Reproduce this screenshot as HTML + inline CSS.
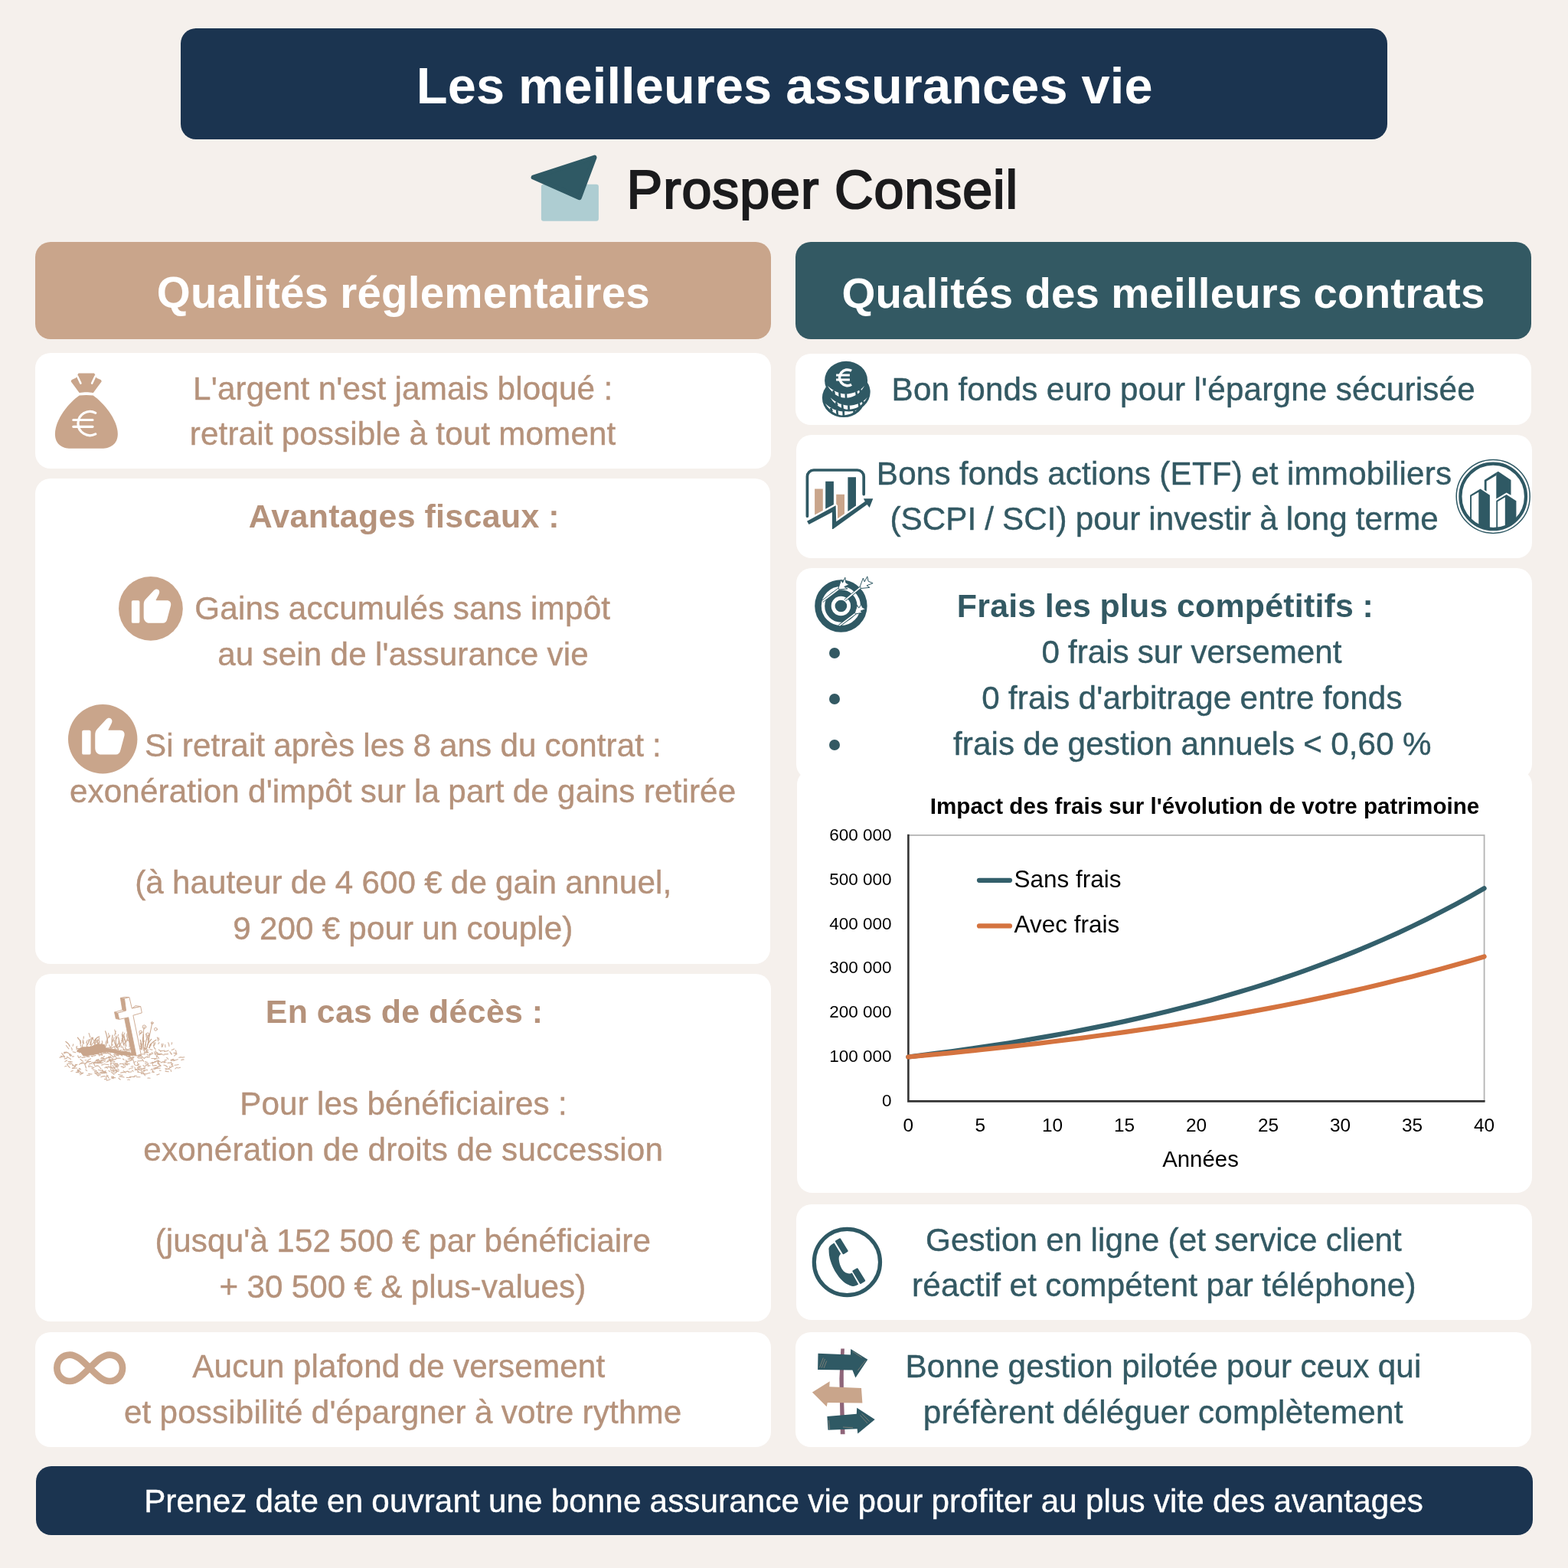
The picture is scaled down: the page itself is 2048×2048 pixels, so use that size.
<!DOCTYPE html>
<html lang="fr">
<head>
<meta charset="utf-8">
<title>Les meilleures assurances vie</title>
<style>
*{box-sizing:border-box;margin:0;padding:0}
html,body{width:2048px;height:2048px;overflow:hidden}
body{background:#f5f0ec;font-family:"Liberation Sans",Arial,Helvetica,sans-serif;position:relative}
.box{position:absolute;border-radius:20px}
.navy{background:#1b3450}
.tan{background:#c9a58b}
.teal{background:#335963}
.card{background:#fff;border-radius:20px}
.t{position:absolute;white-space:nowrap;text-align:center;line-height:59.68px;font-size:42.2px;word-spacing:-.7px}
.tt{color:#b5927b;-webkit-text-stroke:.4px #b5927b}
.tl{color:#335963;-webkit-text-stroke:.4px #335963}
.b{font-weight:bold;font-size:42.9px;line-height:59.68px}
h1,h2,h3,p,li{font-weight:inherit;font-size:inherit}
h1,h2,h3.b{font-weight:bold}
h3.b{font-size:42.9px;-webkit-text-stroke:0}
footer .t{-webkit-text-stroke:.4px #fff}
.w{color:#fff}
.l{display:block;position:relative}
svg{position:absolute;overflow:visible}
ul{list-style:none}
.dot{position:absolute;width:14px;height:14px;border-radius:50%;background:#335963}
</style>
</head>
<body>
<header>
<div class="box navy" style="left:236.2px;top:36.8px;width:1575.6px;height:145.4px;border-radius:20px"></div>
<div class="t w" style="left:24px;width:2000px;top:72.5px"><h1 style="font-size:66.7px;line-height:76px;font-weight:bold"><span id="t0" class="l" style="left:0.79px;letter-spacing:0.132px;top:1.99px">Les meilleures assurances vie</span></h1></div>
<svg style="left:679.4px;top:189.8px" width="120" height="120" viewBox="0 0 120 120">
<rect x="27.9" y="50.7" width="75" height="48.1" rx="3" fill="#aecdd2"/>
<path d="M17.6,41.6 L97.5,15.6 L77.8,68.2 Z" fill="#2f5964" stroke="#2f5964" stroke-width="6" stroke-linejoin="round"/>
</svg>
<div class="t" style="left:818.5px;top:208px;font-size:70px;line-height:80px;color:#1b1b1d;text-align:left;letter-spacing:.95px;-webkit-text-stroke:2.2px #1b1b1d">Prosper Conseil</div>
</header>
<main>
<section>
<div class="box tan" style="left:45.6px;top:316.2px;width:961.6px;height:126.9px"></div>
<div class="t w" style="left:-473.8px;width:2000px;top:350px"><h2 style="font-size:56.5px;line-height:64px"><span id="h1" class="l" style="left:0.63px;letter-spacing:0.183px;top:0.73px">Qualités réglementaires</span></h2></div>
<div class="box card" style="left:45.6px;top:461.4px;width:961.6px;height:150.8px"></div>
<svg style="left:50px;top:470px" width="140" height="140" viewBox="0 0 140 140">
<polygon points="52.9,18.2 72.7,18.2 73.3,19.7 75.4,24.3 81.3,26.7 81.9,28.1 71.4,42.2 62.7,41.3 54,42.2 43.5,28.1 44.1,26.7 49.6,24.3 52.3,19.7" fill="#c9a58b" stroke="#c9a58b" stroke-width="1.6" stroke-linejoin="round"/>
<path d="M51,21.2 L55.4,30.6 M74.5,21.2 L70.1,30.6" stroke="#fff" stroke-width="2.5" stroke-linecap="round" fill="none"/>
<path d="M53.6,46.6 Q62.7,45.2 71.7,46.6 C85,56 103.8,78 103.8,97 C103.8,110 94,115.8 83,115.8 L42,115.8 C31,115.8 21.9,110 21.9,97 C21.9,78 40,56 53.6,46.6 Z" fill="#c9a58b"/>
<path d="M74.8,69.3 A15.6,15.6 0 1 0 74.8,96.9 M45.8,78.5 H71 M45.8,87.3 H71" stroke="#fff" stroke-width="3.2" stroke-linecap="round" fill="none"/>
</svg>
<div class="t tt" style="left:-473.8px;width:2000px;top:478px"><p><span id="a1" class="l" style="left:-0.04px;letter-spacing:0.163px;top:-0.32px">L'argent n'est jamais bloqué :</span><span id="a2" class="l" style="left:-0.08px;letter-spacing:0.120px;top:-0.21px">retrait possible à tout moment</span></p></div>
<div class="box card" style="left:45.6px;top:625.1px;width:960.1px;height:633.7px"></div>
<svg style="left:154.8px;top:752.8px" width="83.8" height="83.8" viewBox="0 0 100 100">
<circle cx="50" cy="50" r="50" fill="#c9a58b"/>
<rect x="20.1" y="37.3" width="12.6" height="35.3" rx="2.2" fill="#fff"/>
<path d="M39,44 C39,40 40,37.5 42.5,35 L55,21.5 C57.5,19 60.5,19 62.3,21 C64,23 63.8,25.3 62.7,27.5 L58.3,36.2 C57.5,37.2 58.3,37.4 59.4,37.4 L75,37.4 C79.5,37.4 82.2,40.5 81.3,45 L75.6,66.5 C74.5,70.5 72.5,72.6 69,72.6 L48,72.6 C42.5,72.6 39,68.5 39,63 Z" fill="#fff"/>
</svg>
<svg style="left:88.7px;top:919.7px" width="90.4" height="90.4" viewBox="0 0 100 100">
<circle cx="50" cy="50" r="50" fill="#c9a58b"/>
<rect x="20.1" y="37.3" width="12.6" height="35.3" rx="2.2" fill="#fff"/>
<path d="M39,44 C39,40 40,37.5 42.5,35 L55,21.5 C57.5,19 60.5,19 62.3,21 C64,23 63.8,25.3 62.7,27.5 L58.3,36.2 C57.5,37.2 58.3,37.4 59.4,37.4 L75,37.4 C79.5,37.4 82.2,40.5 81.3,45 L75.6,66.5 C74.5,70.5 72.5,72.6 69,72.6 L48,72.6 C42.5,72.6 39,68.5 39,63 Z" fill="#fff"/>
</svg>
<div class="t tt" style="left:-473.8px;width:2000px;top:644.7px"><h3 class="b"><span id="b1" class="l" style="left:1.50px;letter-spacing:0.330px;top:0.77px">Avantages fiscaux :</span></h3><p><span class="l">&nbsp;</span><span id="b2" class="l" style="left:-0.45px;letter-spacing:0.223px;top:1.13px">Gains accumulés sans impôt</span><span id="b3" class="l" style="left:0.39px;letter-spacing:0.132px;top:1.14px">au sein de l'assurance vie</span><span class="l">&nbsp;</span><span id="b4" class="l" style="left:0.29px;letter-spacing:0.071px;top:1.07px">Si retrait après les 8 ans du contrat :</span><span id="b5" class="l" style="left:-0.11px;letter-spacing:0.137px;top:1.08px">exonération d'impôt sur la part de gains retirée</span><span class="l">&nbsp;</span><span id="b6" class="l" style="left:0.47px;letter-spacing:0.080px;top:1.01px">(à hauteur de 4 600 € de gain annuel,</span><span id="b7" class="l" style="left:0.19px;letter-spacing:0.089px;top:0.92px">9 200 € pour un couple)</span></p></div>
<div class="box card" style="left:45.6px;top:1272.2px;width:961.6px;height:453.8px"></div>
<svg style="left:60px;top:1290px" width="200" height="140" viewBox="0 0 200 140">
<g fill="none" stroke="#c9a58b" stroke-linecap="round">
<path d="M69.2,65.9Q69.2,64.1 69.6,63.8M52.5,97.5Q54.2,96.2 56.7,96.2M35,76.3Q35.6,74.8 35.7,73.8M128.2,84.2Q130.8,84 132.5,85.1M170.1,83.8Q170,83 169.3,81.8M111.6,86.1Q114.1,85.4 117.3,84.3M128.4,85.4Q130.6,84.4 134.1,84.8M56.5,81.8Q56.5,80.5 55.4,79.9M84.3,79.7Q86.2,78.8 89.6,76.8M104.1,96.3Q104.5,97.1 106.5,96.6M144.7,113.8Q145.9,114.1 148.1,112.8M32.5,93.5Q29.4,91.4 27.5,90.1M92.7,88Q93.8,87.1 94.9,87.2M122,61.9Q122.9,59.8 124.3,58.5M105.2,89.2Q108,89.6 109.8,89.2M53.1,90.2Q54.2,89.8 55,89.9M72.5,98.5Q73.5,98.4 74.8,97.8M135.1,86.6Q136.8,86.7 137.2,85.9M39.7,110.7Q42.5,110.3 44.2,109.1M50.8,89.1Q52.1,88.5 53.9,88.1M167.5,89.1Q169.7,87.4 171,86.8M95.4,107.3Q94.7,107.2 93.7,106.2M166.7,85.3Q169.2,85.2 170.7,85.1M56.5,90.6Q55.2,87.1 55,84.9M27.6,100.3Q29.8,98.3 32.7,97.5M126.1,70.7Q126.2,67.4 126.6,64.6M91.5,102.5Q94.2,101.1 95.3,101M85.5,116.3Q86.7,116 88.5,116.4M148,68Q146.8,66.2 147,65.2M133,118.1Q135,117.8 136,118.3M106.8,68.5Q106.6,65.5 105.4,62.7M97.5,111.2Q99.9,110.4 101.6,110.8M75.8,77.7Q76,75.7 74.8,74.6M61.7,99.4Q63.5,97.9 66.8,98.1M65.9,71.3Q67.1,69.8 67.7,67.6M119.4,104.5Q121.2,104.4 121.9,104M163.4,101.1Q164.4,100.3 165.8,99.6M91.2,60.5Q90.5,58.2 89.8,55M94,109.5Q92.9,108.4 91.9,107.6M94.9,101.2Q93.2,100.2 91.1,98.7M51.6,88.3Q52.5,89.7 54.5,89.4M91.5,110.2Q92.6,108.8 95.1,108.7M115.5,97.8Q114,96 114.1,95.8M97,85.8Q97.8,85.1 99.3,84.9M168.8,106Q169.7,104.7 171.4,104.3M150,97.7Q152.7,97 155.7,95.9M96,116.3Q98,115.7 98.5,115.9M124.2,75.8Q123.3,73.6 123.6,72.3M55.1,73Q56.2,70.3 57.6,67.8M102.3,80.9Q103.4,81.1 104.4,80.3M164.1,81.4Q165,81.1 167.6,80M163.9,87.3Q164.4,85.9 163.4,85.4M102,101.1Q105,100.2 107,100.9M119.3,90.9Q121.3,89.1 123.8,88.3M65.5,86.4Q67,86.5 70.1,86.8M85.8,80.4Q88.7,80.7 90.7,80.2M99.2,69.5Q99.5,67.6 100.7,66.7M141.5,75.4Q140.7,73.3 140.9,71.5M80.7,70Q79.6,68.6 80,67.6M125.6,81Q124,80.8 122.7,79.3M108.5,106.2Q110.9,105.2 113.5,104.7M83.6,109.7Q82.2,108.4 81.9,108.6M115.8,79.9Q114.3,77.5 113.5,74.4M114.2,109.3Q114,108.5 112.4,108M57.1,84.4Q60.5,85.1 62.9,85.4M69.8,77.1Q68.6,75 68.4,72M98.1,102.9Q99.6,103.6 101,103.3M54.5,74.5Q53.8,72.8 53.8,72M102.7,98.9Q104.9,98.6 105.9,96.8M176.7,94.5Q179.1,93.6 180.1,94M114.3,97Q116.4,97.4 117.7,96.4M77.1,97Q76.8,95.7 75.9,95.4M104,99.2Q105.2,99.5 107,99.7M74.7,83.5Q78.4,82.4 80.6,81.5M149.1,82.2Q152.1,82.8 155,82M33.5,88.4Q30.8,86.8 28.7,84.8M129.5,114.9Q127.6,112 126.8,110.1M56.4,103.9Q55.4,103.1 55.7,102M106.6,97.4Q105.5,95.5 104.3,94.6M92.6,85.5Q94.7,85.5 98,85.8M137,107.4Q137.3,106.5 139.1,107M63.2,109.6Q66,109.6 67.9,110.7M164,74.1Q164.9,72.4 164.5,71.7M59.1,89.4Q59.7,89.5 61,90M146.7,73.4Q148,72.5 147.8,71.6M101.9,101.5Q101.1,100.9 101,98.7M111.2,79.8Q112.5,79.4 114.8,78.6M117.6,84.5Q119.3,83.3 122.6,81.7M163.4,95.3Q164.8,94.9 167.8,94.4M48.6,96.2Q47,95.6 44.9,93.3M135.5,87.6Q137.1,86.6 138.8,86.6M139.7,102Q143,101.5 144.6,101.7M49.1,66.4Q49.4,64.9 49.3,63.8M104.4,87.2Q104.6,86.1 104,85.3M112.5,93.3Q113.7,92.1 114.2,92.3M173.6,91.3Q176,90.6 179.3,91.2M150,97.9Q151.7,97 154.5,96.6M58,74.6Q58.8,72.9 58,71.2M83.9,84.8Q85.7,84.4 87.3,84.6M87.8,90.6Q89.5,90.4 89.7,89.9M41.8,109.9Q42,108.8 41.2,107.1M145.9,97.5Q146.8,96.5 149.3,96.5M91.9,91.1Q90.5,89.8 88.6,87.7M43.6,85Q45.5,83.5 47.4,82.8M140.5,110.7Q139,108.1 138.5,106.1M79.2,121.1Q81.2,121 84,119.7M55.7,112.4Q58.5,113.1 60,112.9M131.5,112.4Q134.4,111.4 136,111.2M81.8,103.1Q84.8,104.5 87.2,104.5M45.8,99.3Q47.1,99.1 49.2,98.1M73.2,112Q72.1,111.2 70.8,110.6M128.9,81.9Q127.9,80.3 127.3,80.1M119.6,100.6Q121.5,101 121.8,99.8M92.1,66.8Q92.1,66.1 93.1,64.9M125.8,110.9Q124.9,109.8 124.5,107.5M59.8,80.8Q58,80.1 56.6,79M109,77.4Q109.2,75.6 109.1,73.2M64.1,96.2Q67.2,95.4 69,93.7M116.3,107.7Q118.6,106.4 121.9,106.5M35.1,83.7Q37,84.2 38.9,84.8M154.8,86.9Q156.5,87 159.5,86.6M116.5,101.1Q117.4,101.7 119.8,101.7M119.1,78.3Q119.4,77.1 119.6,74.9M50.4,84.7Q48.6,84 47.4,81.7M133.7,64.4Q134.2,63.6 135.1,62.6M82.8,93.9Q83.2,93.9 85.1,93.9M105.6,80.8Q108.2,80.6 110.4,80.5M76.6,110.4Q74.3,109 73.6,107.3M102,110.5Q103.6,110.1 105.5,109.4M94.3,83.2Q95.6,82.5 98.5,81.2M93.8,74.1Q95.3,72.2 95.4,70.7M141.3,75.3Q142.6,74.1 142.7,71.5M129.3,96.9Q130.1,97 132.4,97.6M110.8,85Q112.5,85.1 113.2,85.2M144.4,85.9Q147.3,86.7 149.5,86.3M70.5,96Q73,96 75.9,95.3M115.2,115.3Q117.4,115.6 118.3,115.1M147.6,92.2Q146,90.9 145.4,88.8M116,100.8Q115.6,99.6 115,98.2M81.5,90.4Q82.5,90.4 84.7,89.7M75.6,93.3Q74.5,92 72.1,91.1M159.8,93.4Q159.2,92.9 157.7,91.4M24,92.8Q26,93 27.7,91.7M134.9,67.3Q134.1,63.7 133.2,61.6M100.6,104.9Q102.6,103.6 104,102.9M89.6,62.3Q90.4,59.4 91.3,57.1M151.9,87.5Q153.7,87.6 154.3,87.9M91.1,87.9Q93,88.1 95,89.1M135.9,75.3Q136.1,73.9 136.8,73.6M102.7,68.2Q102.5,64.7 102,62.4M45.4,106.9Q44.7,105.6 43.1,105.4M38.2,100.3Q39.4,100.8 40.9,100.6M71.1,111.7Q72.7,111.1 75.1,111.6M101.6,85.4Q101.7,84.9 100.8,83.2M154.2,98.1Q154.9,97.1 157,97.3M82.7,65Q82.3,62.6 81.6,59.5M42.7,110.6Q43,108.2 41.6,107.2M75.7,82.4Q74.9,80.9 73.1,78.2M24.4,90.2Q21.9,87.4 20.7,85.6M69.3,69.2Q69.2,68.6 69.5,66.4M118.4,116.7Q120.7,116.7 123,116.8M60,86.8Q59.1,85.7 58,85.3M90.7,101.9Q89.8,100.6 88.4,99.3M100.4,81.3Q101.1,80.7 102.3,80.9M106.8,96Q109.2,96.4 111.4,95.1M116.7,74.2Q118,74.1 117.9,72.3M60,97.7Q62.6,97.5 64.9,97.4M78.4,85.9Q77,83.1 75.1,82.1M78.6,75.8Q78.7,72.7 79.2,70.5M151.6,77.8Q151.1,76.3 151.2,73.3M67.3,97Q70.2,96.6 72.7,96.8M108.5,93.9Q111.3,94.2 114.5,94.5M100.4,63.2Q102.4,61.7 102.8,59M119.9,95.9Q122.6,95.8 126,95.2M155,94.7Q157,94.5 157.7,94.3M96.8,86.9Q99.8,86.4 102.1,86.3M163,94.5Q165.4,93.6 166.6,93.3M65.8,95.8Q68,95.5 69.8,95.5M92.9,78.7Q93.5,77.5 95.4,77M89,111.3Q89.7,111.9 91.5,111.1M99.1,71Q99.2,70.5 100.1,68.7M112.8,80.3Q114.3,80.3 117.2,79.1M133.2,101.9Q133.4,101 132.5,99.2M74.5,111.8Q76,111.9 79,111.3M125.4,79.2Q124.4,76.9 122,76M63.8,73.8Q64.1,72.7 64.8,71.2M137.8,92.5Q140.4,92.4 143.8,92.5M146.6,69.8Q146.3,67.2 145.3,64.9M85.8,117.5Q88.6,117.1 90.8,117.7M127,112Q128.6,112.5 130.9,112.9M74.8,83.2Q76.5,81.6 77.6,81.6M131.1,64.7Q131.1,61.9 130.7,60.3M85.9,118.3Q86.5,118.1 88.4,118.7M62.1,69Q61.3,67.1 61.2,65.2M87.5,68.5Q88.2,67.9 88.5,66.9M46.3,98.2Q49.4,98.7 52,99.5M122.7,79.5Q123.2,79.8 125.2,79.8M119.6,110.2Q123.3,110.8 125.3,111M94.9,70.4Q95.8,69.4 95.5,68.4M24.7,103Q25.2,102.4 26.8,102.5M88.9,93.2Q91,93.8 91.6,93.2M127.6,96.3Q126.9,94.5 125,92.7M111.4,92.7Q112.5,92.6 114.6,91.3M106.3,63.3Q106,61.5 105.6,60.5M34.2,89.9Q35.4,90.2 36.5,89.8M80.4,67.2Q80.8,65.8 82.4,63.4M132.7,84.1Q130.9,82.6 130.3,80.2M72.1,106.5Q70.6,103.7 68.5,102.4M47.5,85.5Q45.1,84.5 43.8,83.2M63.6,101.4Q63.6,99.6 62.2,99.3M45.7,110.1Q43.9,109.8 42.9,107.9M101.2,79.8Q100.8,78.1 99.6,77M71.1,87.9Q72.8,87.7 74,88.2M60.8,89Q63.6,89.3 65.1,88.2M86.1,93.8Q89.1,93.5 91.4,93.8M142,104.9Q144.5,104.4 146.3,103.4M163.6,109.5Q163.2,108.4 163,107.1M65.5,76.3Q66.5,75.3 68,72.9M143.8,84.3Q143.6,83.7 143.2,82.2M23.4,85.6Q25.7,85.4 26.4,84.9M46.7,91.5Q48.2,91.2 51.3,90.9M117,107.3Q116.6,106.4 116,103.9M24.8,96.6Q26,95.5 27.6,94.9M72.5,101Q73.4,101.1 75,100.5M90.6,74.3Q89.1,71.4 89.3,68.5M124.1,107.2Q127.1,105.3 129.7,104.6M105.5,69.5Q106.3,68.7 106.4,66.6M144.6,90.9Q144.5,88.4 143.1,86.2M127.2,79.1Q128.2,78.5 130.7,79.5M69.5,84.1Q69.6,81.9 68.5,78.5M59.8,105.7Q61,105.3 62.7,104.6M143.7,85Q145.7,84.3 146.2,85.3M71.8,116.8Q74.9,115.5 77.4,115.7M99.1,71.2Q99.6,69.8 98.4,69.1M129.5,99.2Q131.2,99.6 133.6,100.3M105,81.3Q106.6,82.2 109.9,82.7M116.7,80.9Q117.3,81.5 119.4,81.4M69.3,98.7Q67.9,98.1 66.5,97.1M119.8,105.1Q122.8,104.6 124.7,105.5M147.6,99.9Q146.8,97.4 146,95M121.6,110.7Q119.1,108 117.9,106.5M74.6,109.1Q75.8,110 78.2,110.4M96.5,99.6Q98.7,99 100.6,99.7M69.2,71.9Q70.1,70.4 69.9,69.8M85.6,108.4Q87.8,109 89.1,108.1M86.9,96.1Q88.5,95.5 89.8,96.4M89.3,82Q92.1,81.1 95,80.4M154.6,83.4Q157.6,83 160.1,81.9M128.1,92.6Q129.7,90.6 132.7,90M128.3,103Q128.2,102.8 127,101.4M39.6,78.1Q39.9,76.9 40.8,76.6M67.4,72.8Q67.6,70 68.2,68.6M66,113.3Q68.9,113.2 71.3,111.6M132.6,99.9Q133,99.9 134.2,98.9M63.8,103Q65.2,102.3 68.1,101.9M114.3,67.8Q115.3,66.2 116.3,64M84.2,99.6Q86.4,98.1 89.7,97.8M89.5,106.1Q88.1,104.3 87.3,101.3M40.7,108.9Q42.4,108.2 43.7,106.9M50.4,99.4Q51,98.8 52.5,98.9M65.7,94.6Q67.2,93.9 68.4,93.9M95.2,77.7Q96.3,77.1 96.4,75.7M130.9,83.4Q132.7,83 133.1,83.2M42.7,91.4Q44.9,91 45.8,89.9M43.9,111.6Q45,111.5 47.6,111.2M54.3,95.3Q55.6,94.2 58.5,92.7M149.8,86.5Q151.2,86 151.7,86.7M100.2,67Q100.6,64.7 99.5,61.8M76.1,83.2Q79.1,82.7 82.2,83.1M92.7,108.1Q93.6,109.3 95.2,108.9M97.1,116.1Q100,116.3 102,117.1M126.8,108.4Q128.9,107.3 132.6,107.6M150.1,83.6Q148.8,82 147.2,81.1M88.7,99.7Q89.8,99.3 91.1,99.5M73.8,110Q76.2,111.3 79.6,111.5M118.9,85.3Q121.1,84.4 122.3,85M124,88.6Q123.6,88.1 123.4,86.7M163.1,104.2Q161.7,103.7 161.5,103M80.5,105.4Q79.5,104.2 78.3,103.3M121.4,88.6Q120.8,87.8 119.1,86.1M79,120Q79.4,118.5 78.4,117.4M128.4,79.9Q130.9,81.2 133.5,81.4M121.1,107.5Q122.2,106.8 123.6,107.6M80.4,103.4Q82.3,104.1 85.8,103.7M109.4,79.3Q111.2,79.2 112.4,79.4M66.4,98.6Q69.2,98.3 71,98.3M98.3,78.2Q98.2,75.6 97.3,73.4M87.2,70.1Q88.7,67 89,65.1M78.6,74.9Q79.4,72.5 78.9,69.3M143.3,96Q146.3,96.3 147.8,95.5M52.7,97.6Q54,98.1 56,97.1M111.2,103.1Q112.1,102.4 113.8,102.9M34.1,81.8Q34.4,79.7 33.1,78.3M128.6,102.8Q129.4,102.7 131.6,101.3M146.4,105.1Q148.5,105.5 149.2,105.1M158.6,103.7Q157.1,102 156.2,101.9M44.5,79.4Q46.9,79.4 49.7,78.1M68.3,115.3Q65.8,112.7 64.2,111.6M166.1,103Q164.2,99.3 163.6,97.3M51,94.7Q51.4,94.8 52.9,94.8M71.6,93Q73.3,92 76.4,89.7M168,101.3Q170.4,101.2 173.1,100.5M133.7,71.8Q133.5,70.1 134.4,67M53.4,81.9Q56.8,81.1 58.8,81.3M82.1,118.3Q80.3,115.5 79.3,113.8M133.1,68.3Q132.7,67.5 133.6,65.8M107.6,110.3Q110.1,110.2 112.1,109.7M91.2,100.3Q91.8,100 93.7,99.1M31.1,104.3Q28.7,102.4 27.4,100.1M34.4,101.8Q35.9,102.4 38.5,102.1M57.8,64.8Q56.8,61.6 56.1,59.5M124.2,87.3Q126.6,86.4 129.3,87.1M53.8,114.6Q55.5,114 57,114.6M152.2,76.7Q153.4,74.4 153,73.3M103.5,99Q105.7,98.9 109.4,99.7M58.6,103.3Q59.6,103.3 61.2,103.7M159,98.4Q161.7,98 163.7,98.2M97.3,120.1Q95.9,119.5 94.9,118.2M91.8,77.3Q92,75.2 93.4,74.1M73.6,78.1Q72.2,75.9 72.1,72.8M125.1,76.6Q125.8,74.8 125.4,74.5M64.5,73.7Q64.7,70.2 64.7,67.7M76.7,104.7Q77.6,104.4 79.3,104.5M51.8,81.4Q53.8,80.4 56.2,79.9M62.2,87.2Q61.5,85.7 60.9,85.3M52.4,105.2Q51.6,102.1 50.7,99.8M168.6,86.4Q170.1,85.5 170.7,86M132,87.4Q134,88.3 136,88.5M104.5,71.4Q104.6,69.8 106,67.2M172.1,105Q173.8,105 175.5,104.3M42.9,79.7Q44.8,80.1 45,80.1M68.8,82.9Q70.2,82 72.8,80.2M116,87.4Q114.5,85.3 114.1,84.4M102,94.4Q101.7,93.4 100.4,93.1M87.7,110.2Q90,108.7 92.6,107.1M156.1,109.4Q158.5,109.4 160.2,109.8M57.5,81.2Q55.9,78.2 53.7,76.6M138.3,97.3Q141.1,98 143.1,97.2M105.4,82.5Q104.8,79.5 103.3,77.8M82.8,83.8Q85.4,83.3 87.2,83.3M149.9,101.8Q148.3,100.5 145.7,98.7M120.6,102.6Q122.2,103.2 123.4,102.6M18,91.3Q19.1,90.5 21,90.6M73.3,75.2Q74,72 73.3,69.6M70,89.1Q68.6,86.7 67.6,83.4M53.5,108.7Q53.1,107.5 51.8,107.3M31,99.9Q32.1,99.9 33.4,99.2M100.5,69.9Q99.7,68.8 99.9,66.1M92.2,78.4Q93.6,75.9 94,73.9M102.1,76.2Q101.8,74.1 102,73M145.6,103.5Q147.2,102.6 150.2,102.1M95.6,72.6Q95.6,71.6 95.6,69.8M143.1,80.5Q141,78.6 140.3,75.4M124.5,112.4Q126.9,111.9 127.8,112.8M42.7,91.1Q42,90.6 41.7,88.7M91.4,92.5Q94.5,92 97.3,92.2M92.6,103.3Q93.5,102.6 94.9,102.7M57.8,87Q59.6,87 60.2,86.4M68.2,114.3Q68.9,114.4 71.3,113.9M140.8,106.9Q143,105.4 146.3,105.1M66.4,71.8Q66.4,69 65,67.2M68.5,107.2Q72.2,108.8 74.3,108.9M93.4,86.5Q95.9,85.6 98.9,86.3M92.1,82.5Q90.3,79.6 89.2,77.2M167,95.6Q169.3,94.2 172.4,93.7M105.4,117.4Q108.1,117.6 111,117.2M52.4,105.2Q52.3,103.2 51.8,102.5M84.6,77.6Q85.8,76.4 87.1,74.4M115.7,80.9Q118.9,79.4 120.8,78.3M19.4,89.2Q21.7,89.5 24.9,90.9M38.1,101.5Q39.9,101.5 40.7,100.2M44.5,113.7Q46.3,113 48.8,111.2M47.5,76.8Q47.6,76.3 47.9,74.2M82.3,79.4Q84.1,78.2 85.6,78.5M145.5,87.5Q148,87.6 150.4,87.1M39.6,80.1Q42.3,79.6 44.8,79.4M69.1,87.7Q68.1,86.4 66.7,85.1M70.6,81.5Q69.4,79.8 67.1,77.6M106.8,120.4Q107.8,119.7 109.3,120.4M160.1,105.8Q162.4,104.5 165.2,102.5M48.2,79.6Q47.4,77.9 47.4,77M40.7,79.2Q40.4,78.8 39.8,77.3M120.4,99.6Q119.4,98.3 119.5,97.3M148.4,108Q149.1,108.4 150.2,108.2M70.8,87.7Q74,86.7 76.2,84.8M129.5,77Q129.3,76.1 130.3,74.1M96.5,74.1Q97.6,72.6 97.8,72.3M141.6,93.9Q143,92.9 145.8,92.7M88.7,104Q90.9,103.3 93.7,104M99.7,89.1Q97.7,88.1 96.1,85.7M93.8,63.8Q93.5,63.4 94.7,61.4M121,80.8Q122.8,79.5 125.5,77.9M63.7,111.5Q66.3,111.3 69.7,112.2M79,97.3Q80.7,96.5 81.7,96.5M92.3,110.4Q91.6,108.5 89.7,105.1M164.4,87Q162.6,85.9 161.9,83.5M76.4,119.5Q77.1,119.8 78.9,119.3M68.2,86.3Q69.8,87.6 71.8,87.4M120.5,91.9Q122.5,92.3 125.3,91.2M107.1,69.5Q108,68.8 108.3,67.5M23.7,84.2Q25.4,84.6 26.9,84M75.9,99.7Q78.7,100 82,100.8M97.8,86.6Q99.6,86.1 102.4,84.5M94.6,81.6Q94.3,78.8 92.3,76.9M48.4,73.1Q47.7,71 48.4,68M89.5,101.4Q91.6,101.6 93.3,101.8M138.5,110.1Q140.4,110.2 141.6,110.2M43.4,100.3Q45.7,98.4 47.4,97.8M56.6,99.7Q56.9,99.5 58.6,99.2M32.1,89.2Q30.6,88.2 30.5,87M26.6,84.9Q28.1,84.3 28.6,85.2M105.6,84.4Q102.8,82 101.4,80.5M155.8,105.5Q158.7,105.8 161.6,106.7M74.3,92.9Q76.1,92.9 79,92.7M61.2,106.9Q63.8,107.8 66.2,108.5M58.1,77.1Q59.7,74.9 60.7,72.9M29.8,79.8Q28.3,78 26.4,75.5M174.9,90.7Q178.3,91.1 180.9,90.8M121.8,103.1Q123.5,102.9 123.9,103M88.3,82.2Q89.9,80.8 90.8,80.6M134.2,69.6Q133.3,67.8 133.7,65.3M110.2,90.1Q110.1,88.5 108.5,88.6M53.3,77.9Q53.3,75.1 53.8,73.2M120.5,90.3Q121.3,89.8 123.6,89.6M53.3,97.3Q56.8,97.2 58.7,96.3M160.9,76.5Q160.9,73.6 159.6,71.8M105.1,70.5Q106,67.5 106.7,65.2M141.7,96.9Q144,96.5 146.9,95.1M71.6,83.6Q73.4,83.5 75,83.9M58.3,67.3Q59.6,65.5 59.8,65.2M105.9,109Q106.4,109.4 108,109.4M127.9,92.1Q126.1,90.8 124,88.6M75.8,85.6Q78.7,85.7 81.2,85.1M100.4,65.7Q101.7,64 101.6,63.9M45.8,76.7Q45.1,75.2 44.8,72.3M63,76.3Q63.5,74.6 63.7,71.6M78.8,91.9Q81.1,91.8 84.2,91M140.3,105.3Q142.7,105 143.7,105.8M107,93.2Q109.3,92.5 111.8,91.9M68.2,98.6Q69.4,97.9 70.8,97M109.9,91.5Q112,90.8 115.1,90.5M32.8,109.4Q33.3,109 35.2,108.4M49.6,72.8Q48.6,72 49.1,69.9M52.5,72Q53.9,69.7 54.1,68.7M139.7,85.9Q138.9,85.9 138.4,84.4M87.9,106.8Q86.2,104.6 85.4,103.8M99.8,63.7Q99.3,60.5 100.4,58M64.6,81.2Q66.1,80.8 68.4,79.5M102.1,75.8Q101.9,74.8 102.5,72.3M68.8,98.7Q70.9,98.3 72.4,98.7M80.1,96.3Q81.5,94.5 84.1,94.2M29.1,96.6Q32.4,96.2 34.3,97.1M101.3,65Q100.7,63.7 101,61.3M83.1,95.5Q84.9,95.9 85.4,95.6M91.1,77.5Q90.9,75.2 92,72.9M71.9,80.3Q74.2,80.6 77.3,79.4M80.3,84Q82.6,83.7 85.2,83.7M70.6,95.7Q72.6,94.6 75.7,93.2M156,77.7Q155.7,75.3 155.7,74.5M99,72.2Q99.9,69.8 99.3,66.1M149.6,102Q147.6,99 146.7,97.5M125.4,78.2Q125.7,76.1 125.3,75.4M58.6,74.1Q58.8,72.1 59.1,69.9M34.3,105.1Q37.3,104.9 38.8,103M89.3,108.4Q87.5,108.3 87.3,106.8M83.6,78.4Q83.7,75.8 82.5,74.9M86.9,70.6Q88,70.3 87.9,68.9M78.2,76.8Q79.2,74.5 78.6,72.2M124.6,88.9Q123.1,87.7 123,85.2M125.7,74.2Q126.8,72.1 128.7,69.7M78.3,75.5Q78.4,73.9 78.3,71M109.4,116.4Q112.6,116 115.6,116.6M137,76Q137.3,74.4 137,74M133.1,102.4Q134.3,101.7 136,101.9M132.3,90.9Q133.5,90.7 135.5,90.4M79.4,78.8Q80.7,79.1 82,78.4M153.9,101.1Q155.8,101.7 157,102M39.2,110.3Q39.9,111.1 42,110.6M88.1,90.5Q86,89.1 83.3,86.6M109.4,74.2Q109.6,72.7 108.6,70M55.7,102.1Q57.3,102.8 58.1,102.1M127.9,109.3Q128.8,108.8 131.1,107.4M56.4,99.9Q58.3,99.3 59.9,98.9M73,86Q71,84 68.3,82.9M69.4,74.6Q69.6,73 70.1,70M32.6,89.2Q32.9,88.7 32.1,86.7M72.3,98.4Q70.7,96.1 69.1,94.6M89.4,86.9Q91.7,86.8 95.2,87.6M104.3,88.8Q106.5,90.3 109.7,90.7M77.7,83.4Q80.1,83.4 83.4,84.1M34.6,105.5Q38.2,105.4 40.5,105M105.4,84.1Q107,84.9 108.5,85.2M51.2,88.9Q54.3,88.4 56.8,87.3M78.5,116.8Q79.3,115.3 81.2,115.1M135.9,80.5Q138.1,81.2 138.9,81.1M37.8,103.3Q36,101.6 34.1,99.6M89.2,113.4Q86.8,112 85.4,110.1M108.5,87.5Q111.4,87.4 113.2,88.8M105.8,81.6Q107.3,80.2 108.8,80.2M125.8,106.5Q127.6,105.6 129.5,105.8M77.4,94.9Q77.1,93.3 75.4,92.5M139.7,102Q139,101 139.1,99.1M136.4,98.8Q138.2,98 140.4,98.4M45.3,72.5Q45.3,71 45.2,68.7M135.5,78.7Q136,75.8 136.7,73.5M116.3,62.4Q115.7,59.3 114.5,57M104.2,111.2Q102.7,109.8 101.1,108.6M73.4,88.1Q71.1,85.1 70,83.1M142.2,87.1Q142.5,84.9 141.5,83.8M156.1,107.2Q158.6,106.3 160.4,106M128.9,83.1Q127.9,82.1 127.6,81.5M111.9,68.4Q112.3,67.9 112.6,66.4M102.8,88.2Q103.5,87.7 105.7,88.4M164.2,99.9Q164.3,98.8 163.7,97.6M82.6,64.9Q83.1,64.4 83.8,62.6M94.6,113.5Q96.9,114.1 100.2,114.5M72.5,110.5Q75.9,109.4 78.4,108.9M55.3,90.3Q53.6,89.8 53.5,88.5M81,85.6Q82.3,86 84.3,86.5M55.5,72.8Q55.6,69.7 56.2,67.5" stroke-width="1.1" opacity=".85"/>
<path d="M58,74.5Q58.6,68.9 61.1,65.2M62.1,72.5Q63.4,67.5 68.3,64.2M80.7,72.5Q80.1,63.1 77.6,56.9M85.9,74.5Q86.1,67.1 87,62.1M91.1,76.6Q91.2,68.5 91.6,63.1M96.3,76.6Q96,69.8 94.7,65.2M101.4,74.5Q101,66.5 99.4,61.1M104.6,76.6Q104,69.2 102,64.2M127.3,78.7Q127.3,68.1 127.3,61.1M129.4,79.7Q130,70.4 132.5,64.2M131.5,79.7Q132.7,72.3 137.7,67.3M134.6,78.7Q136.4,72.5 143.9,68.3M125.3,78.7Q124.8,72.5 123.2,68.3M45.5,72.5Q44.7,68.1 41.4,65.2M31.1,76.6Q30,72.9 25.9,70.4" stroke-width="1.2"/>
<g stroke-width=".9"><circle cx="128.4" cy="51.2" r="2.3"/><circle cx="123.7" cy="58" r="1.9"/><circle cx="133" cy="61.1" r="2.1"/><circle cx="138.7" cy="46.1" r="1.4"/><circle cx="143.4" cy="54.3" r="1.9"/><circle cx="84.9" cy="93.7" r="2.5"/></g>
<path d="M128.4,51 Q126,62 127.5,78 M138.8,46 Q136,60 132,78 M84.9,93.7 V108" stroke-width="1"/>
</g>
<polygon points="40.4,81.8 46.6,77.6 58,77.1 66.3,73.5 76.6,74 78.7,78.7 93.2,81.8 109.7,83.9 113.9,89 97.3,88 82.8,83.9 72.5,84.9 62.1,88 48.7,89.5 45.5,84.9 40.4,83.9" fill="#c9a58b"/>
<g fill="#c9a58b" stroke="#c9a58b" stroke-width=".8" stroke-linejoin="round">
<polygon points="97.3,13.5 102.5,14 104.6,30 99.9,29.2"/><polygon points="89.5,32.1 93.7,33.1 95.8,41.4 91.3,40.6"/><polygon points="102.7,40.6 107.7,38.8 118,89 112.3,88"/>
</g>
<g fill="#fff" stroke="#c9a58b" stroke-width=".9" stroke-linejoin="round">
<polygon points="97.3,13.5 103.5,12.2 108.9,12.6 102.5,14"/><polygon points="89.5,32.1 99.9,29.2 104.6,30 93.7,33.1"/><polygon points="112.3,27.1 117,23.6 123.7,24.6"/>
<polygon points="102.5,14 108.9,12.6 112.3,27.1 123.7,24.6 125.3,32.9 113.9,36.2 124.2,87 118,89 107.7,38.8 95.8,41.4 93.7,33.1 104.6,30"/>
</g>
</svg>
<div class="t tt" style="left:-473.8px;width:2000px;top:1292.6px"><h3 class="b"><span id="c1" class="l" style="left:1.89px;letter-spacing:0.327px;top:-0.15px">En cas de décès :</span></h3><p><span class="l">&nbsp;</span><span id="c2" class="l" style="left:0.85px;letter-spacing:0.119px;top:0.13px">Pour les bénéficiaires :</span><span id="c3" class="l" style="left:0.59px;letter-spacing:0.251px;top:0.14px">exonération de droits de succession</span><span class="l">&nbsp;</span><span id="c4" class="l" style="left:0.14px;letter-spacing:0.146px;top:0.07px">(jusqu'à 152 500 € par bénéficiaire</span><span id="c5" class="l" style="left:-0.21px;letter-spacing:0.114px;top:0.08px">+ 30 500 € &amp; plus-values)</span></p></div>
<div class="box card" style="left:45.6px;top:1739.7px;width:961.6px;height:150.3px"></div>
<svg style="left:56.3px;top:1745.9px" width="122.4" height="81.6" viewBox="-60 -40 120 80">
<path d="M0,0 C10,-10 17,-16.9 25.5,-16.9 C35,-16.9 42,-9.5 42,0 C42,9.5 35,16.9 25.5,16.9 C17,16.9 10,10 0,0 C-10,-10 -17,-16.9 -25.5,-16.9 C-35,-16.9 -42,-9.5 -42,0 C-42,9.5 -35,16.9 -25.5,16.9 C-17,16.9 -10,10 0,0 Z" fill="none" stroke="#c9a58b" stroke-width="8.5" stroke-linejoin="round"/>
</svg>
<div class="t tt" style="left:-473.8px;width:2000px;top:1755px"><p><span id="d1" class="l" style="left:-5.38px;letter-spacing:0.158px;top:0.20px">Aucun plafond de versement</span><span id="d2" class="l" style="left:-0.04px;letter-spacing:0.161px;top:0.09px">et possibilité d'épargner à votre rythme</span></p></div>
</section>
<section>
<div class="box teal" style="left:1038.6px;top:316.2px;width:961.6px;height:126.9px"></div>
<div class="t w" style="left:519.5px;width:2000px;top:350px"><h2 style="font-size:56.4px;line-height:64px"><span id="h2" class="l" style="left:-0.07px;letter-spacing:0.172px;top:1.37px">Qualités des meilleurs contrats</span></h2></div>
<div class="box card" style="left:1038.6px;top:461.6px;width:961.2px;height:93.7px"></div>
<svg style="left:1050px;top:460px" width="110" height="100" viewBox="0 0 110 100">
<g transform="translate(-3.2,22.8)"><ellipse cx="55.1" cy="37" rx="28" ry="25.3" fill="#2f5964"/><path d="M31,44.1 C38.7,56.4 47.8,59.8 55,59.7 C63.8,59.5 73.5,54.7 79.2,43.8 C73.5,50.7 63.8,54.4 55,54.6 C47.8,54.6 38.7,51.3 31,44.1 Z" fill="#fff"/><path d="M38.2,50.1L39.9,54.7M46.4,53L47,59.2M54.8,54.1L55.1,60.4M68.3,51.3L69.2,57.5M73.2,48.4L74.6,53.5" stroke="#2f5964" stroke-width="2.7" fill="none"/></g><g transform="translate(3.6,15.1)"><ellipse cx="55.1" cy="37" rx="28" ry="25.3" fill="#2f5964"/><path d="M31,44.1 C38.7,56.4 47.8,59.8 55,59.7 C63.8,59.5 73.5,54.7 79.2,43.8 C73.5,50.7 63.8,54.4 55,54.6 C47.8,54.6 38.7,51.3 31,44.1 Z" fill="#fff"/><path d="M38.2,50.1L39.9,54.7M46.4,53L47,59.2M54.8,54.1L55.1,60.4M68.3,51.3L69.2,57.5M73.2,48.4L74.6,53.5" stroke="#2f5964" stroke-width="2.7" fill="none"/></g><g transform="translate(0,0)"><ellipse cx="55.1" cy="37" rx="28" ry="25.3" fill="#2f5964"/><path d="M31,44.1 C38.7,56.4 47.8,59.8 55,59.7 C63.8,59.5 73.5,54.7 79.2,43.8 C73.5,50.7 63.8,54.4 55,54.6 C47.8,54.6 38.7,51.3 31,44.1 Z" fill="#fff"/><path d="M38.2,50.1L39.9,54.7M46.4,53L47,59.2M54.8,54.1L55.1,60.4M68.3,51.3L69.2,57.5M73.2,48.4L74.6,53.5" stroke="#2f5964" stroke-width="2.7" fill="none"/><path d="M62.1,24.3 A10.4,10.4 0 1 0 62.1,42.3" stroke="#fff" stroke-width="3.5" fill="none"/><path d="M42.1,30 H59.9 M42.1,36 H59.9" stroke="#fff" stroke-width="3" fill="none"/></g>
</svg>
<div class="t tl" style="left:545px;width:2000px;top:479px"><p><span id="e1" class="l" style="left:0.72px;letter-spacing:0.186px;top:0.24px">Bon fonds euro pour l'épargne sécurisée</span></p></div>
<div class="box card" style="left:1040.3px;top:568.1px;width:960.7px;height:161px"></div>
<svg style="left:1040px;top:590px" width="120" height="120" viewBox="0 0 120 120">
<path d="M14.4,84.2 V32.4 A8.4,8.4 0 0 1 22.8,24 H79.8 A8.4,8.4 0 0 1 88.2,32.4 V55.6" fill="none" stroke="#2f5964" stroke-width="3.7" stroke-linecap="round"/>
<polygon points="24.1,48.6 34.8,48.6 34.8,76.7 24.1,82.6" fill="#c9a58b"/><polygon points="52.2,55.7 63,55.7 63,81.1 54,87.3 54,70.2 52.2,68.3" fill="#c9a58b"/>
<polygon points="38.2,38.8 48.9,38.8 48.9,68.9 38.2,74.8" fill="#2f5964"/><polygon points="67.4,33.2 78,33.2 78,70.5 67.4,78" fill="#2f5964"/>
<polygon points="14,90.7 51.6,70.2 52.2,91.3 89.8,64.9 87.9,61.2 100.3,61.2 95.7,73 92.5,68.9 48.1,100.9 46.9,100.9 46.9,78.9 16.5,95" fill="#2f5964"/>
</svg>
<svg style="left:1890px;top:590px" width="120" height="120" viewBox="0 0 120 120">
<defs><clipPath id="bclip"><circle cx="60.2" cy="58.4" r="42.6"/></clipPath></defs>
<circle cx="60.2" cy="58.4" r="48" fill="none" stroke="#2f5964" stroke-width="1.5"/>
<g clip-path="url(#bclip)">
<polygon points="64.3,27.3 66.8,25.8 83.5,37 83.5,56.8 77.6,53.4 64.3,61.5" fill="#2f5964"/><polygon points="48.8,37 64.6,27.1 64.6,30.7 51.6,38.6 51.6,51.7 48.8,49.9" fill="#2f5964"/>
<polygon points="30.1,56.8 43.5,48.4 55.9,56.8 55.9,105.6 30.1,105.6" fill="#2f5964"/><polygon points="32,58.1 41.3,52.8 41.3,105.6 32,105.6" fill="#fff"/>
<polygon points="64.3,64 77.6,55.9 90.4,64.3 90.4,105.6 64.3,105.6" fill="#2f5964"/><polygon points="66.1,65.2 75.8,59.6 75.8,105.6 66.1,105.6" fill="#fff"/>
</g>
<circle cx="60.2" cy="58.4" r="42.8" fill="none" stroke="#2f5964" stroke-width="4.2"/>
</svg>
<div class="t tl" style="left:519.5px;width:2000px;top:588.5px"><p><span id="f1" class="l" style="left:1.06px;letter-spacing:0.181px;top:0.19px">Bons fonds actions (ETF) et immobiliers</span><span id="f2" class="l" style="left:1.16px;letter-spacing:0.037px;top:0.20px">(SCPI / SCI) pour investir à long terme</span></p></div>
<div class="box card" style="left:1040.3px;top:742.4px;width:960.7px;height:275.7px"></div>
<div class="box card" style="left:1040.5px;top:1005.3px;width:960.5px;height:552.7px"></div>
<svg style="left:1050px;top:740px" width="100" height="100" viewBox="0 0 100 100">
<circle cx="48.4" cy="51.5" r="29.9" fill="none" stroke="#2f5964" stroke-width="8.6"/>
<circle cx="48.4" cy="51.5" r="16.95" fill="none" stroke="#2f5964" stroke-width="8.5"/>
<circle cx="48.4" cy="51.5" r="7.8" fill="#2f5964"/>
<g fill="none"><path d="M45.8,29 L24.1,45.5" stroke="#2f5964" stroke-width="3.4" stroke-linecap="butt"/><path d="M45.8,29 L24.1,45.5" stroke="#fff" stroke-width="1.7"/><polygon points="45,28.2 48.7,17.1 50.5,21.2 53.8,14.2 54.9,21.2 59,23.6 52.8,26.4 56.9,29 46.1,30" fill="#fff" stroke="#2f5964" stroke-width="1" stroke-linejoin="miter"/><path d="M67.3,61.1 L46.3,77.1" stroke="#2f5964" stroke-width="3.4" stroke-linecap="butt"/><path d="M67.3,61.1 L46.3,77.1" stroke="#fff" stroke-width="1.7"/><polygon points="66.5,60.3 69.6,50.5 71.7,54.1 75.1,49.2 76.3,53.3 80.5,55.4 74,58.2 76.1,60.3 67.5,61.9" fill="#fff" stroke="#2f5964" stroke-width="1" stroke-linejoin="miter"/><path d="M74,27.2 L53.6,44" stroke="#2f5964" stroke-width="3.4" stroke-linecap="butt"/><path d="M74,27.2 L53.6,44" stroke="#fff" stroke-width="1.7"/><polygon points="73.2,26.1 77.4,15 79.2,19.9 82.8,12.9 84.1,19.2 90.1,21.7 82,24.8 85.9,27.4 74.5,28.5" fill="#fff" stroke="#2f5964" stroke-width="1" stroke-linejoin="miter"/></g>
</svg>
<div class="t tl" style="left:519.5px;width:2000px;top:762px"><h3 class="b"><span id="g1" class="l" style="left:2.48px;letter-spacing:0.213px;top:0.10px">Frais les plus compétitifs :</span></h3></div>
<div class="t tl" style="left:556.5px;width:2000px;top:821.9px"><ul><li><span id="g2" class="l" style="left:-0.04px;letter-spacing:0.013px;top:0.35px">0 frais sur versement</span></li><li><span id="g3" class="l" style="left:0.43px;letter-spacing:0.159px;top:0.36px">0 frais d'arbitrage entre fonds</span></li><li><span id="g4" class="l" style="left:0.72px;letter-spacing:0.116px;top:0.47px">frais de gestion annuels &lt; 0,60 %</span></li></ul></div>
<div class="dot" style="left:1083.1px;top:846.4px"></div>
<div class="dot" style="left:1083.1px;top:906.2px"></div>
<div class="dot" style="left:1083.1px;top:965.9px"></div>
<svg style="left:0;top:0" width="2048" height="2048" viewBox="0 0 2048 2048" font-family="'Liberation Sans',Arial,sans-serif" fill="#000"><text x="1573.5" y="1063" font-size="29.6" font-weight="bold" text-anchor="middle">Impact des frais sur l'évolution de votre patrimoine</text><path d="M1186.4,1090.8 H1938.6 V1438.4" fill="none" stroke="#b3b3b3" stroke-width="1.8"/><path d="M1186.4,1089.8 V1438.4 H1939.6" fill="none" stroke="#333" stroke-width="2.6" stroke-linecap="butt" stroke-linejoin="miter"/><text x="1164.5" y="1445.2" font-size="22.5" text-anchor="end">0</text><text x="1164.5" y="1387.3" font-size="22.5" text-anchor="end">100 000</text><text x="1164.5" y="1329.3" font-size="22.5" text-anchor="end">200 000</text><text x="1164.5" y="1271.4" font-size="22.5" text-anchor="end">300 000</text><text x="1164.5" y="1213.5" font-size="22.5" text-anchor="end">400 000</text><text x="1164.5" y="1155.5" font-size="22.5" text-anchor="end">500 000</text><text x="1164.5" y="1097.6" font-size="22.5" text-anchor="end">600 000</text><text x="1186.4" y="1478.4" font-size="24.4" text-anchor="middle">0</text><text x="1280.4" y="1478.4" font-size="24.4" text-anchor="middle">5</text><text x="1374.5" y="1478.4" font-size="24.4" text-anchor="middle">10</text><text x="1468.5" y="1478.4" font-size="24.4" text-anchor="middle">15</text><text x="1562.5" y="1478.4" font-size="24.4" text-anchor="middle">20</text><text x="1656.5" y="1478.4" font-size="24.4" text-anchor="middle">25</text><text x="1750.5" y="1478.4" font-size="24.4" text-anchor="middle">30</text><text x="1844.6" y="1478.4" font-size="24.4" text-anchor="middle">35</text><text x="1938.6" y="1478.4" font-size="24.4" text-anchor="middle">40</text><text x="1568" y="1523.8" font-size="29.4" text-anchor="middle">Années</text><path d="M1186.4,1380.5 L1205.2,1378.1 L1224,1375.7 L1242.8,1373.2 L1261.6,1370.6 L1280.4,1367.9 L1299.2,1365.1 L1318,1362.2 L1336.8,1359.1 L1355.6,1355.9 L1374.5,1352.6 L1393.3,1349.2 L1412.1,1345.6 L1430.9,1341.9 L1449.7,1338.1 L1468.5,1334.1 L1487.3,1329.9 L1506.1,1325.6 L1524.9,1321 L1543.7,1316.3 L1562.5,1311.5 L1581.3,1306.4 L1600.1,1301.1 L1618.9,1295.6 L1637.7,1289.9 L1656.5,1284 L1675.3,1277.8 L1694.1,1271.4 L1712.9,1264.7 L1731.7,1257.7 L1750.5,1250.5 L1769.4,1243 L1788.2,1235.2 L1807,1227 L1825.8,1218.6 L1844.6,1209.8 L1863.4,1200.6 L1882.2,1191.1 L1901,1181.2 L1919.8,1171 L1938.6,1160.3" fill="none" stroke="#335f6b" stroke-width="6.2" stroke-linecap="round" stroke-linejoin="round"/><path d="M1186.4,1380.5 L1205.2,1378.7 L1224,1376.9 L1242.8,1375.1 L1261.6,1373.2 L1280.4,1371.2 L1299.2,1369.2 L1318,1367.1 L1336.8,1365 L1355.6,1362.8 L1374.5,1360.5 L1393.3,1358.2 L1412.1,1355.8 L1430.9,1353.3 L1449.7,1350.8 L1468.5,1348.1 L1487.3,1345.4 L1506.1,1342.6 L1524.9,1339.8 L1543.7,1336.8 L1562.5,1333.8 L1581.3,1330.6 L1600.1,1327.4 L1618.9,1324.1 L1637.7,1320.6 L1656.5,1317.1 L1675.3,1313.5 L1694.1,1309.7 L1712.9,1305.9 L1731.7,1301.9 L1750.5,1297.8 L1769.4,1293.6 L1788.2,1289.2 L1807,1284.7 L1825.8,1280.1 L1844.6,1275.4 L1863.4,1270.5 L1882.2,1265.5 L1901,1260.3 L1919.8,1254.9 L1938.6,1249.4" fill="none" stroke="#d4733f" stroke-width="6.2" stroke-linecap="round" stroke-linejoin="round"/><path d="M1279,1149.8 H1319" stroke="#335f6b" stroke-width="6.2" stroke-linecap="round"/><text x="1324.5" y="1158.8" font-size="31.5">Sans frais</text><path d="M1279,1209.4 H1319" stroke="#d4733f" stroke-width="6.2" stroke-linecap="round"/><text x="1324.5" y="1218.4" font-size="31.5">Avec frais</text></svg>
<div class="box card" style="left:1040.3px;top:1573.4px;width:961.2px;height:150.4px"></div>
<svg style="left:1046px;top:1588px" width="120" height="120" viewBox="0 0 120 120">
<circle cx="60.4" cy="60.5" r="43.1" fill="none" stroke="#2f5964" stroke-width="5.2"/>
<path d="M43.5,35.4 C40.5,37 38.3,38.8 37.3,40.4 C36.3,42 36.3,43.5 36.6,44.7 C36.6,47 36.8,50 37.3,52.8 C38,57 39,60 40.4,63.4 C42,67.5 43.8,71 46,74.5 C48.5,78.5 51,81.5 54,84.5 C56.5,87 59,88.7 62.1,90.1 C64,91.2 66,92 68.3,91.9 C70.5,91.8 73,90.8 75.2,89.4 L66.8,74.5 C65.5,75.3 64.5,75.6 63.4,75.5 C61,75.3 59,74.7 57.1,73.3 C55.3,71.8 54,70 52.8,67.7 C51.3,65 50.5,62 50,59 C49.7,57.5 49.6,56 49.7,54.7 C49.9,52.8 50.8,51 52.2,49.7 Z" fill="#2f5964"/>
<polygon points="46.2,33.4 51,30.6 60.4,46 55.6,48.8" fill="#2f5964" stroke="#2f5964" stroke-width="2.6" stroke-linejoin="round"/>
<polygon points="68.7,72.4 73.6,69.6 82.9,84.7 78,87.6" fill="#2f5964" stroke="#2f5964" stroke-width="2.6" stroke-linejoin="round"/>
</svg>
<div class="t tl" style="left:519.5px;width:2000px;top:1589px"><p><span id="i1" class="l" style="left:0.47px;letter-spacing:0.116px;top:0.60px">Gestion en ligne (et service client</span><span id="i2" class="l" style="left:0.90px;letter-spacing:0.210px;top:0.59px">réactif et compétent par téléphone)</span></p></div>
<div class="box card" style="left:1038.6px;top:1739.8px;width:961.6px;height:150.2px"></div>
<svg style="left:1046px;top:1750px" width="120" height="140" viewBox="0 0 120 140">
<polygon points="52.3,11.6 56.9,11.6 55.8,43.5 55.9,72.5 57.6,123.2 51.8,123.2 51.1,87 50.4,50.7" fill="#8e6579"/>
<polygon points="22.5,17.8 64.9,19.6 65.2,12 87.3,25.7 71.4,49.6 67.4,39.5 22.1,39.1" fill="#2f5964"/><polygon points="14.9,68.5 37.7,54.3 37.3,61.2 79,63 80.4,82.6 34.8,81.9 33.7,87.3" fill="#c9a58b"/><polygon points="34.4,100 72.8,96.7 73.2,88.8 96.7,104 74.3,122.5 73.6,116.3 35.5,117.8" fill="#2f5964"/>
<path d="M24.6,36 L29.3,23.5 M27.2,36.5 L31.5,25 M30.1,36.8 L33.7,27.5 M67.7,15.2 L79.5,23 M74.3,40 L84.4,27.2 M77.5,98.5 L87,109 M79.5,96.3 L89.5,106.5 M55,114 L68,114.8 M36.2,105 L37.5,117" stroke="#c9a58b" stroke-width=".6" opacity=".8" fill="none"/>
</svg>
<div class="t tl" style="left:519.5px;width:2000px;top:1755px"><p><span id="j1" class="l" style="left:-0.02px;letter-spacing:0.195px;top:-0.22px">Bonne gestion pilotée pour ceux qui</span><span id="j2" class="l" style="left:-0.27px;letter-spacing:0.216px;top:0.09px">préfèrent déléguer complètement</span></p></div>
</section>
</main>
<footer>
<div class="box navy" style="left:47px;top:1915px;width:1954.8px;height:89.8px;border-radius:20px"></div>
<div class="t w" style="left:24px;width:2000px;top:1930.8px"><p><span id="z1" class="l" style="left:-0.41px;letter-spacing:0.098px;top:0.48px">Prenez date en ouvrant une bonne assurance vie pour profiter au plus vite des avantages</span></p></div>
</footer>
</body>
</html>
